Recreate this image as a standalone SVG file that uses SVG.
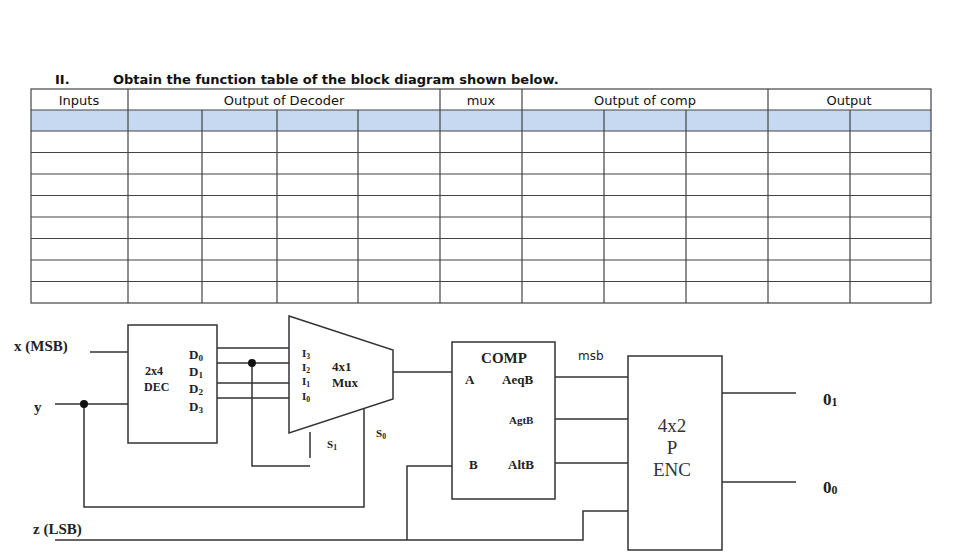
<svg xmlns="http://www.w3.org/2000/svg" width="953" height="557" viewBox="0 0 953 557">
<style>
.t{font-family:"DejaVu Sans",sans-serif;font-size:13px;fill:#111}
.s{font-family:"Liberation Serif",serif;font-weight:bold;fill:#222}
.b{font-size:70%}
.g{fill:none;stroke:#333;stroke-width:1.5}
.w{fill:none;stroke:#333;stroke-width:1.5}
</style>
<rect width="953" height="557" fill="#fff"/>
<g id="table">
<text class="t" x="55" y="84" font-weight="bold">II.</text>
<text class="t" x="113" y="84" font-weight="bold" font-size="12.5">Obtain the function table of the block diagram shown below.</text>
<rect x="31" y="110" width="900" height="21" fill="#c6d9f1"/>
<g stroke="#444" stroke-width="1.2" fill="none">
<rect x="31" y="89" width="900" height="214"/>
<path d="M31 110H931M31 131H931M31 152.5H931M31 174H931M31 195.5H931M31 217H931M31 238.5H931M31 260H931M31 281.5H931"/>
<path d="M128 89V303M440 89V303M522 89V303M768 89V303M202 110V303M277 110V303M358 110V303M604 110V303M686 110V303M850 110V303"/>
</g>
<g class="t" text-anchor="middle" font-size="14">
<text x="79" y="105">Inputs</text><text x="284" y="105">Output of Decoder</text><text x="481" y="105">mux</text><text x="645" y="105">Output of comp</text><text x="849" y="105">Output</text>
</g>
</g>
<g id="dec">
<rect class="g" x="128" y="325" width="89" height="118"/>
<text class="s" x="145" y="375" font-size="12">2x4</text>
<text class="s" x="144" y="391" font-size="12">DEC</text>
<text class="s" x="189" y="359" font-size="13">D<tspan class="b" dy="2">0</tspan></text>
<text class="s" x="189" y="376" font-size="13">D<tspan class="b" dy="2">1</tspan></text>
<text class="s" x="189" y="393" font-size="13">D<tspan class="b" dy="2">2</tspan></text>
<text class="s" x="189" y="411" font-size="13">D<tspan class="b" dy="2">3</tspan></text>
</g>
<g id="mux">
<path class="g" d="M289 316L393 350V399L289 433Z"/>
<g class="s" font-size="11"><text x="302" y="357">I<tspan class="b" dy="2">3</tspan></text><text x="302" y="371">I<tspan class="b" dy="2">2</tspan></text><text x="302" y="385">I<tspan class="b" dy="2">1</tspan></text><text x="302" y="400">I<tspan class="b" dy="2">0</tspan></text></g>
<text class="s" x="332" y="371" font-size="13">4x1</text>
<text class="s" x="332" y="387" font-size="13">Mux</text>
<text class="s" x="327" y="448" font-size="11">S<tspan class="b" dy="2">1</tspan></text>
<text class="s" x="376" y="437" font-size="11">S<tspan class="b" dy="2">0</tspan></text>
</g>
<g id="comp">
<rect class="g" x="452" y="342" width="103" height="157"/>
<text class="s" x="504" y="363" font-size="15" text-anchor="middle">COMP</text>
<text class="s" x="465" y="384" font-size="13">A</text>
<text class="s" x="502" y="384" font-size="13">AeqB</text>
<text class="s" x="509" y="424" font-size="11">AgtB</text>
<text class="s" x="469" y="469" font-size="13">B</text>
<text class="s" x="508" y="469" font-size="13">AltB</text>
</g>
<g id="enc">
<rect class="g" x="628" y="356" width="94" height="194"/>
<g font-family="Liberation Serif,serif" font-size="19" fill="#333" text-anchor="middle"><text x="672" y="432">4x2</text><text x="672" y="454">P</text><text x="672" y="476">ENC</text></g>
</g>
<g id="labels">
<text class="s" x="14" y="351" font-size="15">x (MSB)</text>
<text class="s" x="34" y="412" font-size="15">y</text>
<text class="s" x="33" y="534" font-size="15">z (LSB)</text>
<text x="578" y="360" font-family="DejaVu Sans,sans-serif" font-size="12" fill="#222">msb</text>
<text class="s" x="823" y="405" font-size="17">0<tspan class="b" dy="1">1</tspan></text>
<text class="s" x="823" y="493" font-size="17">0<tspan class="b" dy="1">0</tspan></text>
</g>
<g id="connectors" class="w">
<path d="M90 352H128M55 404H128M84 404V507H364V408"/>
<path d="M217 348H289M217 363H289M217 383H289M217 398H289"/>
<path d="M252 363V466H310M310 432V458"/>
<path d="M393 372H452"/>
<path d="M55 540H583V511H628M407 540V466H452"/>
<path d="M555 377H628M555 419H628M555 463H628"/>
<path d="M722 393H796M722 482H796"/>
<circle cx="252" cy="363" r="4" fill="#111" stroke="none"/>
<circle cx="84" cy="404" r="4" fill="#111" stroke="none"/>
</g>
</svg>
